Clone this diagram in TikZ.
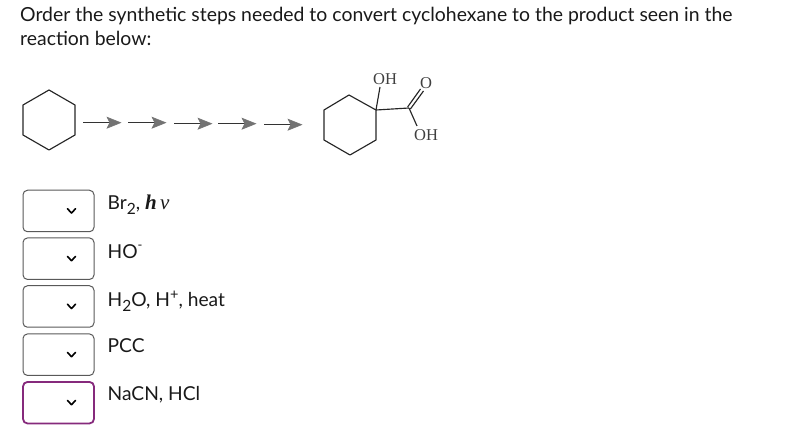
\documentclass[tikz,border=0pt]{standalone}
\usepackage{fontspec}
\setmainfont{Lato}
\newfontfamily\chemfont{Liberation Serif}
\usetikzlibrary{arrows.meta,calc}
\definecolor{activepurple}{RGB}{134,42,124}
\tikzset{
  x=1pt,y=-1pt,
  title/.style={anchor=base west,inner sep=0,font=\fontsize{19.4}{22}\selectfont,text=black!90},
  opt/.style={anchor=base west,inner sep=0,font=\fontsize{19.2}{22}\selectfont,text=black!90},
  chem/.style={inner sep=0,font=\chemfont\fontsize{16.5}{18}\selectfont,text=black!75},
  bond/.style={draw=black!85,line width=1.15pt,line join=round},
  rarrow/.style={draw=black!80,line width=1.5pt,-{Stealth[length=15pt,width=12pt,inset=3pt,line width=0.6pt,color=black!55]}},
  ddbox/.style={draw=black!65,line width=1pt,rounded corners=4.5pt,minimum width=71pt,minimum height=41.5pt,inner sep=0,fill=white},
  ddactive/.style={ddbox,draw=activepurple,line width=1.8pt},
  chev/.style={draw=black,line width=1.6pt,line cap=round,line join=round},
}
\begin{document}
\begin{tikzpicture}
\useasboundingbox (0,0) rectangle (812,438);
\node[title] (t1) at (20,21.5) {Order the synthetic steps needed to convert cyclohexane to the product seen in the};
\node[title] (t2) at (20,46) {reaction below:};
% reactant
\draw[bond] (49,90) -- (75,105) -- (75,135) -- (49,150) -- (23,135) -- (23,105) -- cycle;
% arrows
\coordinate (a0) at (83,122.7);  \coordinate (b0) at (121.5,122.7);
\coordinate (a1) at (128,122.7); \coordinate (b1) at (166.5,122.7);
\coordinate (a2) at (174,123.7); \coordinate (b2) at (212.5,123.7);
\coordinate (a3) at (218,123.7); \coordinate (b3) at (256.5,123.7);
\coordinate (a4) at (264,124.7); \coordinate (b4) at (302.5,124.7);
\foreach \i in {0,...,4} {\draw[rarrow] (a\i) -- (b\i);}
% product
\draw[bond] (349,95) -- (376,110) -- (376,140) -- (350,155) -- (324,140) -- (324,110) -- cycle;
\node[chem] (oh1) at (385,79) {OH};
\node[chem] (o) at (426,83) {O};
\node[chem] (oh2) at (426,135) {OH};
\coordinate (c1) at (376,110);
\coordinate (c2) at (409,108);
\coordinate (e1) at (380,87);
\coordinate (e2) at (417,126);
\coordinate (e3) at (420.5,89);
\coordinate (e4) at (423.5,91);
\coordinate (s3) at (407.6,107);
\coordinate (s4) at (410.4,109);
\draw[bond] (c1) -- (c2);
\draw[bond] (c1) -- (e1);
\draw[bond] (c2) -- (e2);
\draw[bond] (s3) -- (e3);
\draw[bond] (s4) -- (e4);
% answer boxes
\node[ddbox] (d1) at (58.5,211) {};
\node[ddbox] (d2) at (58.5,258.7) {};
\node[ddbox] (d3) at (58.5,306.5) {};
\node[ddbox] (d4) at (58.5,354.7) {};
\node[ddactive] (d5) at (58.5,402.7) {};
\foreach \i in {1,...,5} {
  \draw[chev] ($(d\i.center)+(9,-2.2)$) -- ($(d\i.center)+(13,2)$) -- ($(d\i.center)+(17,-2.2)$);
}
% options
\node[opt] (o1) at (107.5,209.5) {Br\raisebox{-0.25em}{\fontsize{15.5}{15}\selectfont 2}, {\chemfont\fontsize{21}{22}\selectfont\bfseries\itshape h}\,{\chemfont\fontsize{21}{22}\selectfont\itshape v}};
\node[opt] (o2) at (107.5,259) {HO\raisebox{0.5em}{\fontsize{13}{13}\selectfont -}};
\node[opt] (o3) at (107.5,307) {H\raisebox{-0.25em}{\fontsize{15.5}{15}\selectfont 2}O, H\raisebox{0.4em}{\fontsize{14.5}{14}\selectfont +}, heat};
\node[opt] (o4) at (107.5,353) {PCC};
\node[opt] (o5) at (107.5,400.5) {NaCN, HCl};
\end{tikzpicture}
\end{document}
